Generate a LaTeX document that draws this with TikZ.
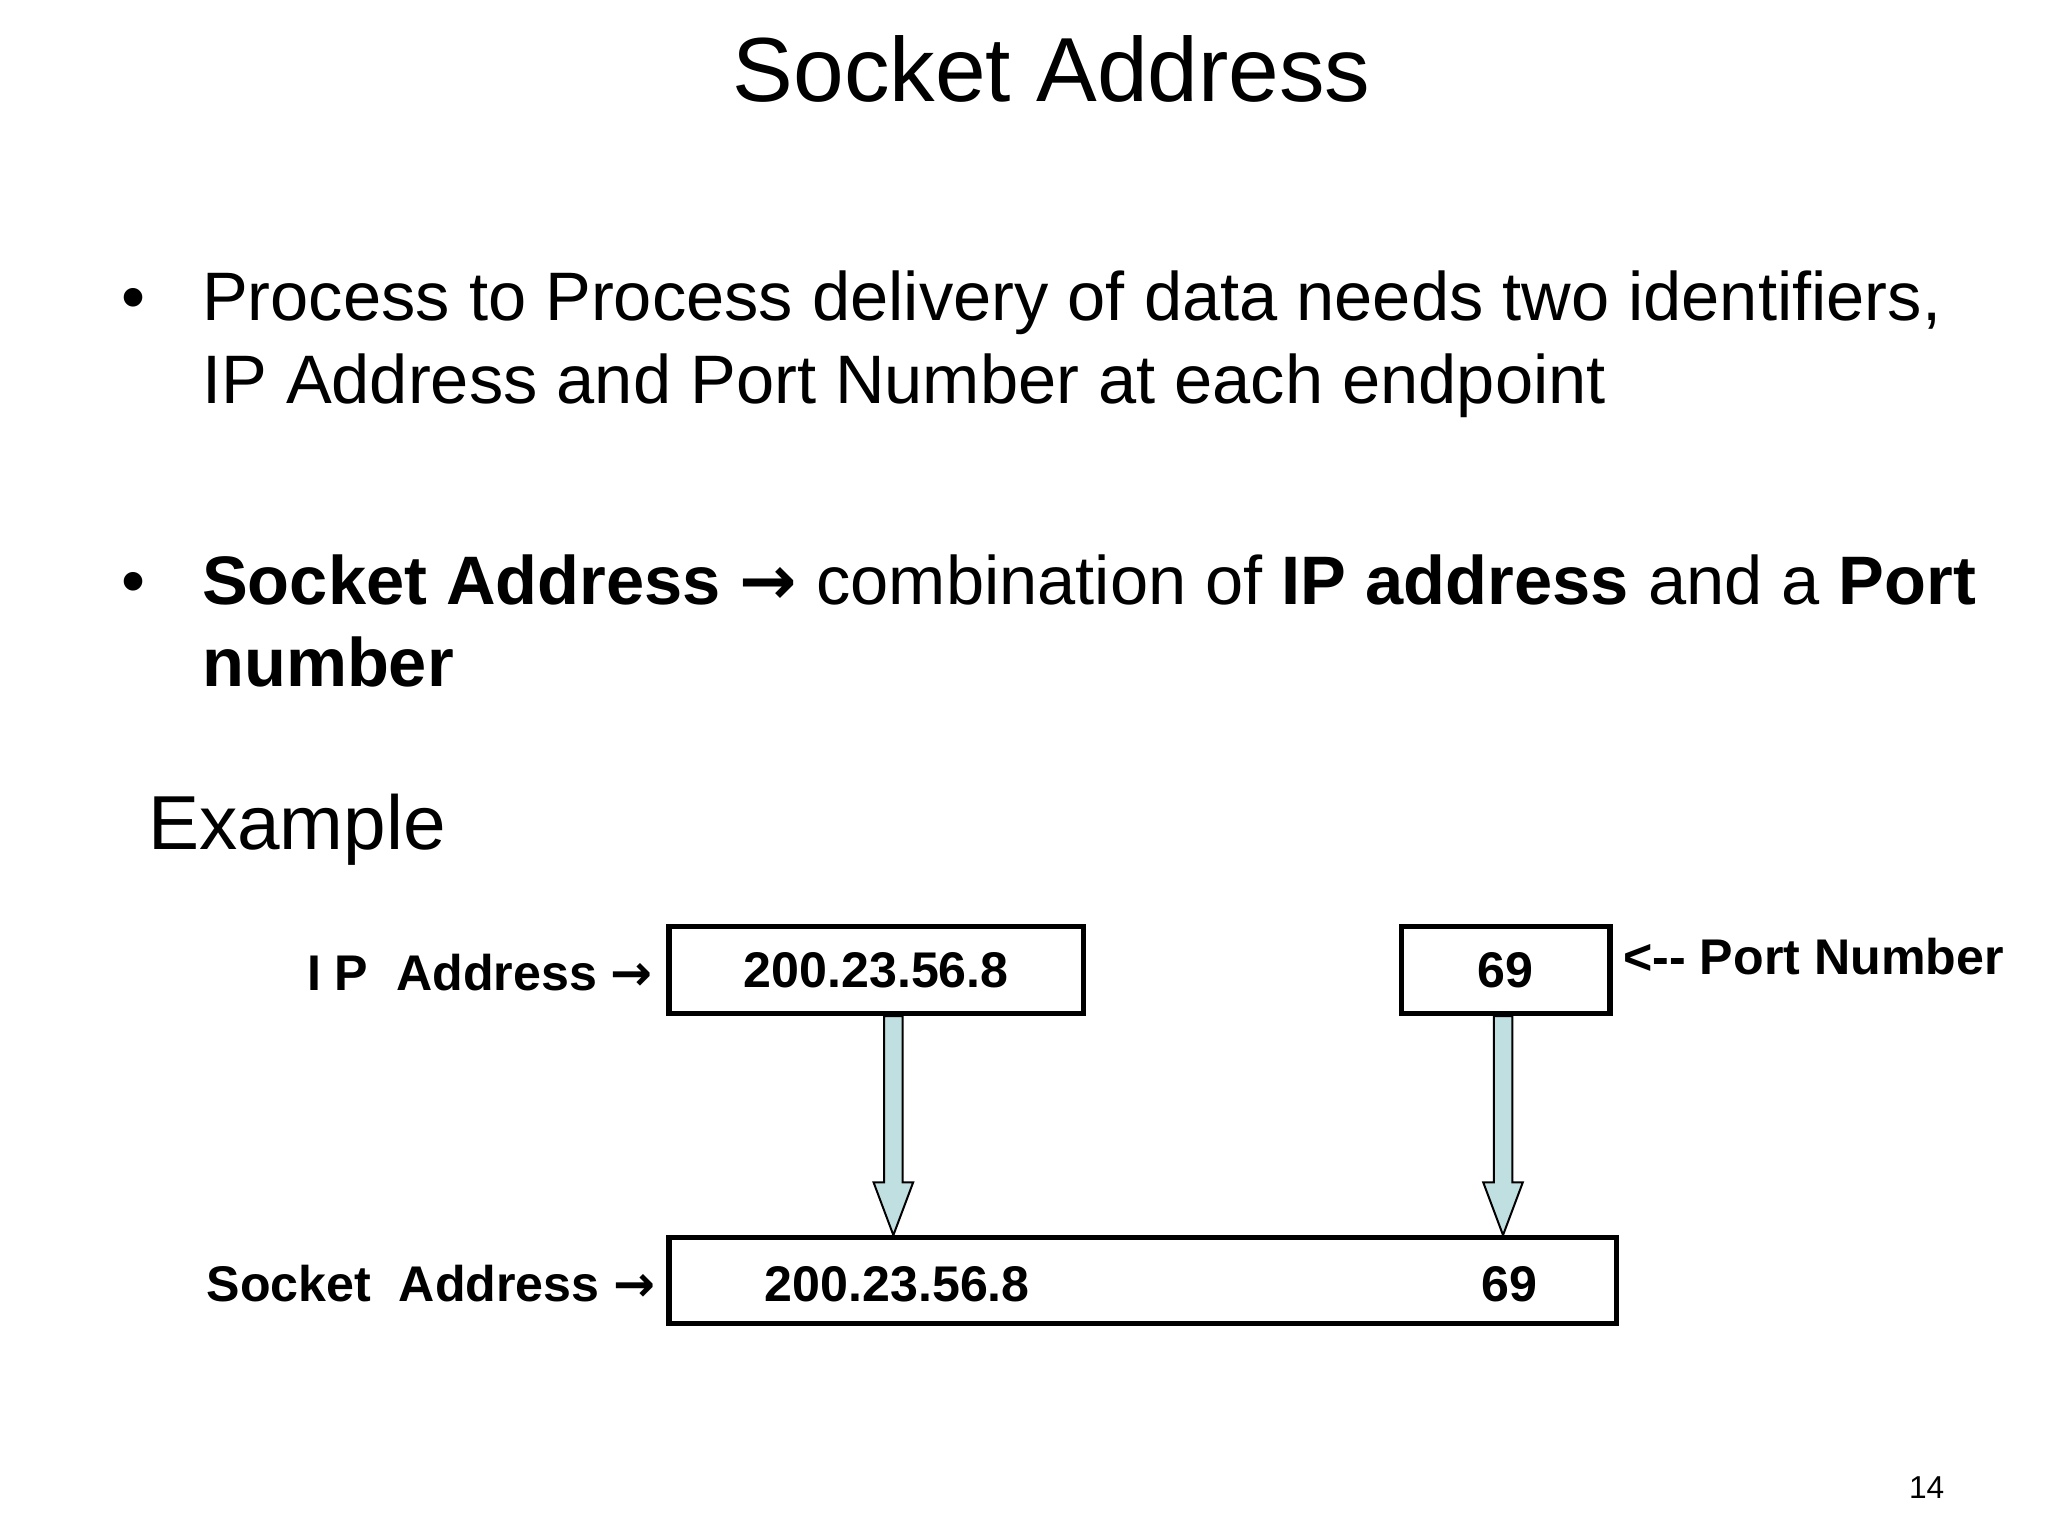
\documentclass[tikz,border=0pt]{standalone}
\usepackage{fontspec}
\setmainfont{Liberation Sans}
\newfontfamily\arrowfont{DejaVu Sans}
\definecolor{arrblue}{HTML}{BFDFE0}
\newcommand{\barr}{{\arrowfont\bfseries →}}
\begin{document}
\begin{tikzpicture}[x=1pt,y=-1pt,
  box/.style={draw,line width=4pt,inner sep=0pt,font=\fontsize{38}{46}\selectfont\bfseries},
  lab/.style={font=\fontsize{38}{46}\selectfont\bfseries,inner sep=0pt},
  body/.style={font=\fontsize{52}{60}\selectfont,inner sep=0pt,anchor=base west},
  blk/.style={draw,line width=1.5pt,fill=arrblue}]
\useasboundingbox (0,0) rectangle (1552,1164);
\node[font=\fontsize{69}{74}\selectfont] (title) at (797,52) {Socket Address};
\node[body] (b1dot) at (92,243) {•};
\node[body] (l1) at (153,243) {Process to Process delivery of data needs two identifiers,};
\node[body] (l2) at (153,306) {IP Address and Port Number at each endpoint};
\node[body] (b2dot) at (92,458) {•};
\node[body] (l3) at (153,458) {\textbf{Socket Address} \barr{} combination of \textbf{IP address} and a \textbf{Port}};
\node[body] (l4) at (153,520) {\textbf{number}};
\node[font=\fontsize{58}{64}\selectfont,inner sep=0pt,anchor=base west] (ex) at (112,644) {Example};
\node[box,minimum width=314pt,minimum height=66pt] (ip) at (664,735) {200.23.56.8};
\node[box,minimum width=158pt,minimum height=66pt] (port) at (1141,735) {69};
\node[box,minimum width=718pt,minimum height=65pt] (sock) at (866,970.5) {};
\node[lab] (sip) at (680,973) {200.23.56.8};
\node[lab] (sport) at (1144,973) {69};
\node[lab,anchor=east] (iplab) at (495,737) {I P\ \ Address \barr};
\node[lab,anchor=west] (portlab) at (1230,725) {<-{}- Port Number};
\node[lab,anchor=east] (socklab) at (497,973) {Socket\ \ Address \barr};
\node[font=\fontsize{24}{28}\selectfont] (pg) at (1460,1127) {14};
\foreach \n/\x in {a/677,b/1139}{
  \draw[blk] (\x-7,770) -- (\x+7,770) -- (\x+7,896) -- (\x+15,896) -- (\x,936) -- (\x-15,896) -- (\x-7,896) -- cycle;
}
\end{tikzpicture}
\end{document}
